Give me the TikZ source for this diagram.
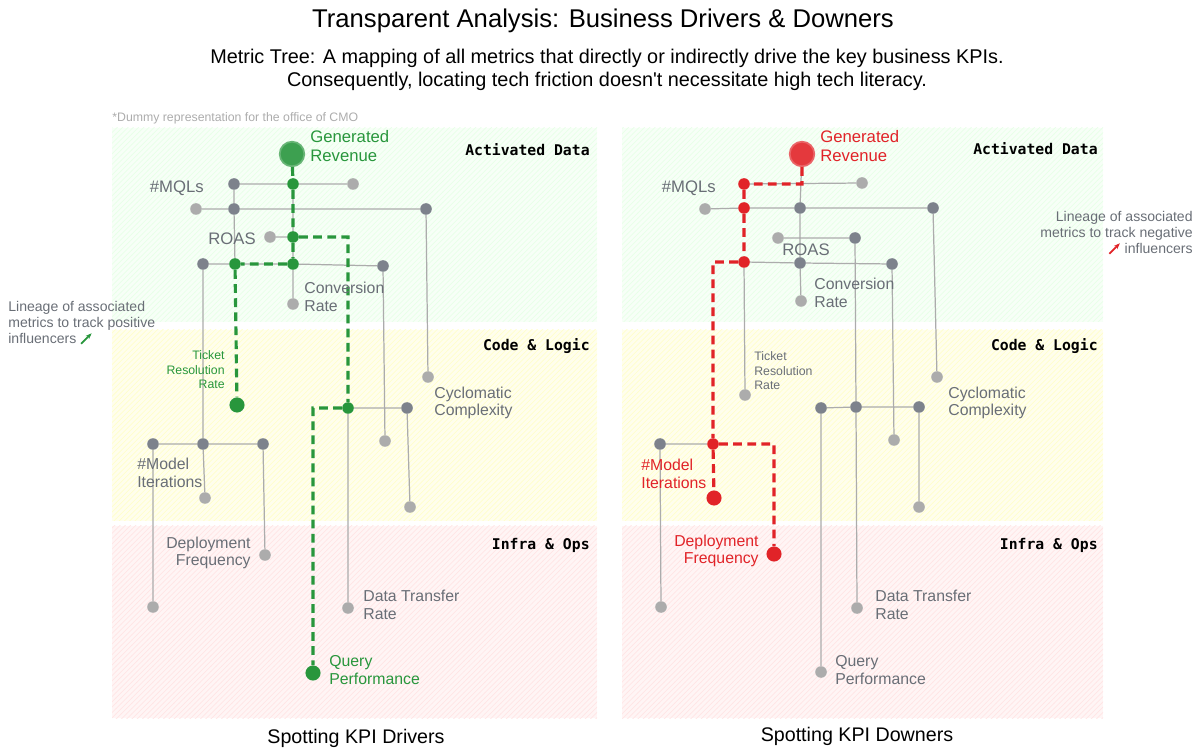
\documentclass[tikz,border=0pt]{standalone}
\usepackage{fontspec}
\setmainfont{Liberation Sans}
\setmonofont{DejaVu Sans Mono}
\usetikzlibrary{patterns,arrows.meta}
\definecolor{dkg}{RGB}{125,130,140}
\definecolor{ltg}{RGB}{172,172,172}
\definecolor{gn}{RGB}{40,150,60}
\definecolor{rd}{RGB}{225,35,40}
\definecolor{txg}{RGB}{105,110,118}
\tikzset{
 dk/.style={circle,fill=dkg,inner sep=0,minimum size=6.6pt},
 lt/.style={circle,fill=ltg,inner sep=0,minimum size=6.6pt},
 gdot/.style={circle,fill=gn,inner sep=0,minimum size=6.6pt},
 rdot/.style={circle,fill=rd,inner sep=0,minimum size=6.6pt},
 gbig/.style={circle,fill=gn,inner sep=0,minimum size=8.6pt},
 rbig/.style={circle,fill=rd,inner sep=0,minimum size=8.6pt},
 gtop/.style={circle,fill=gn!90,draw=gn!70,line width=1pt,inner sep=0,minimum size=14pt},
 rtop/.style={circle,fill=rd!90,draw=rd!70,line width=1pt,inner sep=0,minimum size=14pt},
 gl/.style={draw=ltg,line width=0.7pt},
 gpath/.style={draw=gn,dash pattern=on 5pt off 3pt,line width=1.8pt},
 rpath/.style={draw=rd,dash pattern=on 5pt off 3pt,line width=1.8pt},
 lab/.style={font=\fontsize{9}{10}\selectfont,text=txg,inner sep=0,align=left},
 slab/.style={font=\fontsize{7}{8.2}\selectfont,text=txg,inner sep=0,align=left},
 band/.style={font=\ttfamily\bfseries\fontsize{8.4}{10}\selectfont,anchor=east,inner sep=0},
}
\begin{document}
\begin{tikzpicture}[x=0.02cm,y=-0.02cm]
\useasboundingbox (0,0) rectangle (1200,756);
% bands
\foreach \xa/\xb in {112/597,622/1103}{
 \fill[green!3] (\xa,128) rectangle (\xb,322);
 \fill[pattern=north east lines,pattern color=green!9] (\xa,128) rectangle (\xb,322);
 \fill[yellow!7] (\xa,330) rectangle (\xb,521);
 \fill[pattern=north east lines,pattern color=yellow!20] (\xa,330) rectangle (\xb,521);
 \fill[red!4] (\xa,526) rectangle (\xb,718);
 \fill[pattern=north east lines,pattern color=red!10] (\xa,526) rectangle (\xb,718);
}
\node[band] (bl1) at (590,150) {Activated Data};
\node[band] (bl2) at (590,346) {Code \& Logic};
\node[band] (bl3) at (590,545) {Infra \& Ops};
\node[band] (br1) at (1098,149) {Activated Data};
\node[band] (br2) at (1098,346) {Code \& Logic};
\node[band] (br3) at (1098,545) {Infra \& Ops};
% titles
\node[font=\fontsize{14.6}{16}\selectfont] (title) at (603,21) {Transparent Analysis: Business Drivers \& Downers};
\node[font=\fontsize{11.3}{13}\selectfont,align=center] (sub) at (607,70) {Metric Tree: A mapping of all metrics that directly or indirectly drive the key business KPIs.\\Consequently, locating tech friction doesn\textquotesingle t necessitate high tech literacy.};
\node[font=\fontsize{7}{8}\selectfont,text=ltg,anchor=west,inner sep=0] (dummy) at (112,118) {*Dummy representation for the office of CMO};
\node[font=\fontsize{11.2}{13}\selectfont] (capl) at (356,738) {Spotting KPI Drivers};
\node[font=\fontsize{11.2}{13}\selectfont] (capr) at (857,736) {Spotting KPI Downers};
\node[font=\fontsize{8}{9.2}\selectfont,text=txg,align=left,anchor=west,inner sep=0] (annl) at (8,323) {Lineage of associated\\metrics to track positive\\influencers \tikz[baseline=0pt]\draw[gn,line width=1pt,-{Stealth[length=3.5pt]}] (0,0)--(6pt,6pt);};
\node[font=\fontsize{8}{9.2}\selectfont,text=txg,align=right,anchor=east,inner sep=0] (annr) at (1193,233) {Lineage of associated\\metrics to track negative\\\tikz[baseline=0pt]\draw[rd,line width=1pt,-{Stealth[length=3.5pt]}] (0,0)--(6pt,6pt); influencers};

% ---------- LEFT ----------
\node[gtop] (gr) at (292,154) {};
\node[dk] (a) at (234,184) {}; \node[gdot] (b) at (293,184) {}; \node[lt] (c) at (353,184) {};
\node[lt] (d) at (196,209) {}; \node[dk] (e) at (234,209) {}; \node[dk] (f) at (426,209) {};
\node[lt] (ro1) at (270,237) {}; \node[gdot] (ro2) at (293,237) {};
\node[dk] (g) at (203,264) {}; \node[gdot] (h) at (235,264) {}; \node[gdot] (i) at (293,264) {}; \node[dk] (j) at (383,266) {};
\node[lt] (cr) at (293,304) {};
\node[gbig] (tk) at (237,405) {};
\node[lt] (cy) at (428,377) {};
\node[gdot] (k) at (348,408) {}; \node[dk] (l) at (407,408) {};
\node[lt] (m) at (385,441) {};
\node[dk] (n) at (153,444) {}; \node[dk] (o) at (203,444) {}; \node[dk] (p) at (263,444) {};
\node[lt] (q) at (205,498) {}; \node[lt] (r) at (410,507) {};
\node[lt] (s) at (265,555) {}; \node[lt] (t) at (153,607) {}; \node[lt] (u) at (348,608) {};
\node[gbig] (qp) at (313,673) {};
\path[gl] (a)--(b)--(c) (d)--(e)--(f) (a)--(e)--(h) (ro1)--(ro2) (g)--(h)--(i)--(j)
 (b)--(ro2)--(i)--(cr) (f)--(cy) (j)--(m) (g)--(o) (k)--(l) (k)--(u) (l)--(r)
 (n)--(o)--(p) (n)--(t) (o)--(q) (p)--(s);
\path[gpath] (gr)--(b)--(ro2)--(i)--(h)--(tk) (ro2) -| (k) (k) -| (qp);
\node[lab,text=gn,anchor=west,font=\fontsize{9.5}{10.5}\selectfont] (lgr) at (310,146) {Generated\\Revenue};
\node[lab,anchor=east,font=\fontsize{9.5}{10}\selectfont] (lmql) at (204,188) {\#MQLs};
\node[lab,anchor=east,font=\fontsize{9.5}{10}\selectfont] (lroas) at (256,239) {ROAS};
\node[lab,anchor=west] (lcr) at (304,297) {Conversion\\Rate};
\node[slab,anchor=east,align=right,text=gn] (ltk) at (225,370) {Ticket\\Resolution\\Rate};
\node[lab,anchor=west] (lcy) at (434,403) {Cyclomatic\\Complexity};
\node[lab,anchor=west] (lmi) at (137,473) {\#Model\\Iterations};
\node[lab,anchor=east,align=right] (ldf) at (251,553) {Deployment\\Frequency};
\node[lab,anchor=west] (ldt) at (363,605) {Data Transfer\\Rate};
\node[lab,anchor=west,text=gn] (lqp) at (329,670) {Query\\Performance};

% ---------- RIGHT ----------
\node[rtop] (Rgr) at (802,154) {};
\node[rdot] (Ra) at (744,184) {}; \node[lt] (Rc) at (862,183) {};
\node[lt] (Rd) at (705,209) {}; \node[rdot] (Rb) at (744,208) {}; \node[dk] (Re) at (800,208) {}; \node[dk] (Rf) at (933,208) {};
\node[lt] (Rro1) at (778,238) {}; \node[dk] (Rro2) at (855,238) {};
\node[rdot] (Rh) at (744,262) {}; \node[dk] (Ri) at (800,263) {}; \node[dk] (Rj) at (892,264) {};
\node[lt] (Rcr) at (801,301) {};
\node[lt] (Rtk) at (745,395) {};
\node[lt] (Rcy) at (937,377) {};
\node[dk] (Rk) at (821,408) {}; \node[dk] (Rl) at (856,407) {}; \node[dk] (Rm) at (919,407) {};
\node[lt] (Rn) at (894,440) {};
\node[dk] (Ro) at (660,444) {}; \node[rdot] (Rp) at (713,444) {};
\node[rbig] (Rq) at (714,498) {};
\node[lt] (Rr) at (919,507) {};
\node[rbig] (Rs) at (774,554) {};
\node[lt] (Rt) at (661,607) {}; \node[lt] (Ru) at (857,608) {}; \node[lt] (Rqp) at (821,672) {};
\path[gl] (Ra)--(Rc) (Rgr)--(Re)--(Ri)--(Rcr) (Rd)--(Rb)--(Re)--(Rf) (Rro1)--(Rro2)--(Rl)
 (Rh)--(Ri)--(Rj) (Rj)--(Rn) (Rh)--(Rtk) (Rf)--(Rcy) (Rk)--(Rl)--(Rm) (Rk)--(Rqp)
 (Rl)--(Ru) (Rm)--(Rr) (Ro)--(Rp) (Ro)--(Rt);
\path[rpath] (Rgr) |- (Ra) (Ra)--(Rb)--(Rh) (Rh) -| (Rp) (Rp)--(Rq) (Rp) -| (Rs);
\node[lab,text=rd,anchor=west,font=\fontsize{9.5}{10.5}\selectfont] (Rlgr) at (820,146) {Generated\\Revenue};
\node[lab,anchor=east,font=\fontsize{9.5}{10}\selectfont] (Rlmql) at (716,188) {\#MQLs};
\node[lab,anchor=west,font=\fontsize{9.5}{10}\selectfont] (Rlroas) at (782,250) {ROAS};
\node[lab,anchor=west] (Rlcr) at (814,293) {Conversion\\Rate};
\node[slab,anchor=west] (Rltk) at (754,371) {Ticket\\Resolution\\Rate};
\node[lab,anchor=west] (Rlcy) at (948,403) {Cyclomatic\\Complexity};
\node[lab,anchor=west,text=rd] (Rlmi) at (641,474) {\#Model\\Iterations};
\node[lab,anchor=east,align=right,text=rd] (Rldf) at (759,551) {Deployment\\Frequency};
\node[lab,anchor=west] (Rldt) at (875,605) {Data Transfer\\Rate};
\node[lab,anchor=west] (Rlqp) at (835,670) {Query\\Performance};
\end{tikzpicture}
\end{document}
